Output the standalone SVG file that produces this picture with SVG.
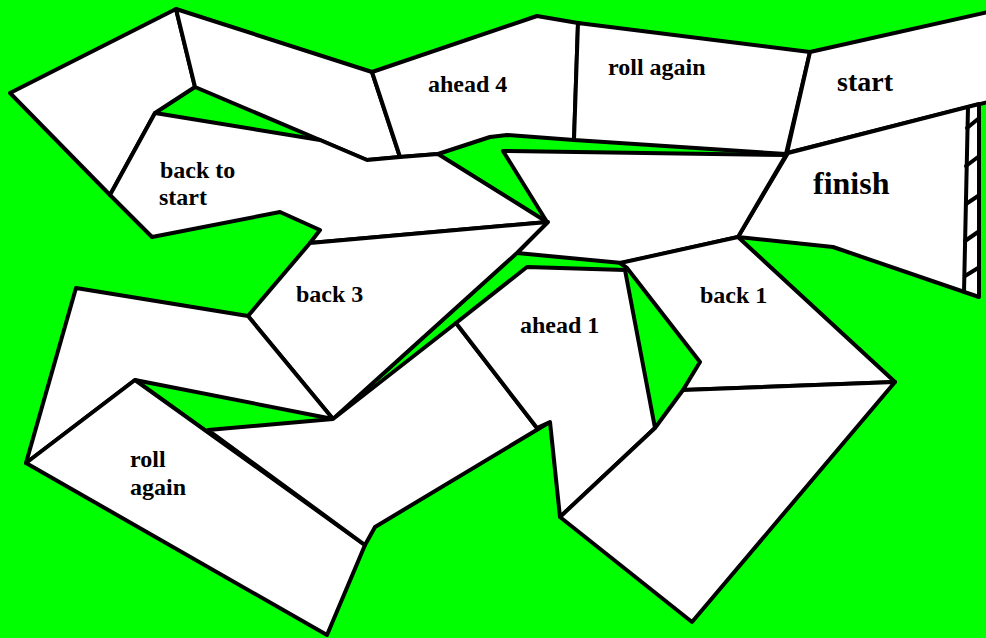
<svg xmlns="http://www.w3.org/2000/svg" width="986" height="638" viewBox="0 0 986 638">
<style>
.sq{fill:#fff;stroke:#000;stroke-width:4;stroke-linejoin:round}
.ln{stroke:#000;stroke-width:4;fill:none;stroke-linecap:round}
.t{font-family:"Liberation Serif","Times New Roman",serif;font-weight:bold;font-size:24px;fill:#000}
</style>
<rect width="986" height="638" fill="#00ff00"/>
<g id="sq-topleft"><polygon class="sq" points="10,93 176,9 195,87 155,113 110,195"/></g>
<g id="sq-top2"><polygon class="sq" points="176,9 372,72 400,157 367,160 320,140 195,87"/></g>
<g id="sq-ahead4"><polygon class="sq" points="372,72 537,16 578,23 574,140 507,135 490,137 438,154 400,157"/><text class="t" x="428" y="92">ahead 4</text></g>
<g id="sq-rollagain"><polygon class="sq" points="578,23 810,52 786,154 574,140"/><text class="t" x="608" y="75">roll again</text></g>
<g id="sq-start"><polygon class="sq" points="810,52 988,12 988,102 787,153"/><text class="t" x="837" y="91" style="font-size:28px">start</text></g>
<g id="sq-finish"><polygon class="sq" points="788,153 979,104 979,297 833,247 738,237"/><text class="t" x="813" y="194" style="font-size:32px">finish</text>
<g id="ladder" class="ln"><line x1="968" y1="107" x2="964" y2="292"/><line x1="967" y1="128" x2="978" y2="119"/><line x1="966" y1="166" x2="978" y2="157"/><line x1="966" y1="204" x2="978" y2="196"/><line x1="965" y1="241" x2="978" y2="232"/><line x1="965" y1="276" x2="978" y2="268"/></g></g>
<g id="sq-middle"><polygon class="sq" points="503,151 786,155 738,237 622,263 517,253 547,222"/></g>
<g id="sq-backtostart"><polygon class="sq" points="155,113 320,140 367,160 400,157 438,154 547,222 310,243 320,230 280,212 152,237 110,195"/><text class="t" x="160" y="178">back to</text><text class="t" x="159" y="205">start</text></g>
<g id="sq-back3"><polygon class="sq" points="310,243 548,222 517,253 333,419 248,316"/><text class="t" x="296" y="302">back 3</text></g>
<g id="sq-left"><polygon class="sq" points="76,288 248,316 333,419 135,380 26,463"/></g>
<g id="sq-rollagain2"><polygon class="sq" points="26,463 135,380 365,545 327,635"/><text class="t" x="130" y="467">roll</text><text class="t" x="130" y="495">again</text></g>
<g id="sq-lowmid"><polygon class="sq" points="208,430 333,419 456,323 537,428 550,422 375,527 365,545"/></g>
<g id="sq-ahead1"><polygon class="sq" points="527,267 625,270 655,428 560,517 550,422 537,428 456,323"/><text class="t" x="520" y="333">ahead 1</text></g>
<g id="sq-back1"><polygon class="sq" points="620,263 738,237 895,382 683,390 700,362 627,268"/><text class="t" x="700" y="303">back 1</text></g>
<g id="sq-lowright"><polygon class="sq" points="655,428 683,390 895,382 692,622 560,517"/></g>
</svg>
